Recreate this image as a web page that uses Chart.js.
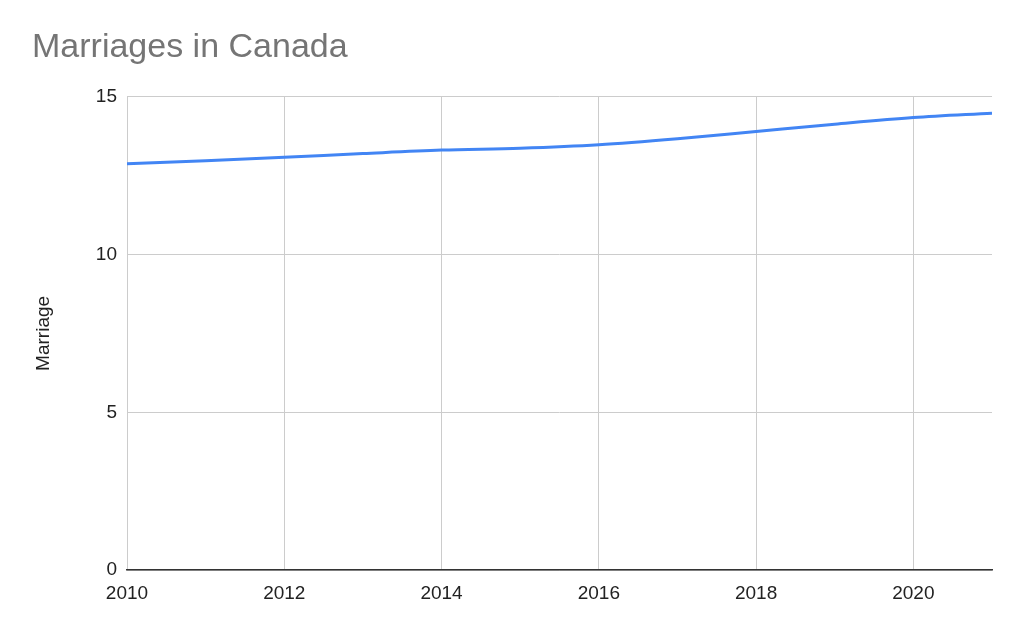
<!DOCTYPE html>
<html>
<head>
<meta charset="utf-8">
<title>Marriages in Canada</title>
<script src="https://cdn.jsdelivr.net/npm/chart.js@4/dist/chart.umd.min.js"></script>
<style>
  html, body { margin: 0; padding: 0; background: #fff; }
  #chartBox { width: 1024px; height: 633px; }
</style>
</head>
<body>
<div id="chartBox"><canvas id="marriageChart" width="1024" height="633"></canvas></div>
<script>
// Data
const years = [2010, 2011, 2012, 2013, 2014, 2015, 2016, 2017, 2018, 2019, 2020, 2021];
const marriages = [12.88, 12.97, 13.08, 13.2, 13.31, 13.37, 13.48, 13.67, 13.9, 14.13, 14.34, 14.48];
const yTicks = [0, 5, 10, 15];

const FONT = "'Liberation Sans', Arial, sans-serif";

/**
 * Builds the line chart
 */
function initializeChart() {
    const ctx = document.getElementById('marriageChart').getContext('2d');

    const points = years.map((year, i) => ({ x: year, y: marriages[i] }));

    new Chart(ctx, {
        type: 'line',
        data: {
            datasets: [{
                label: 'Marriage',
                data: points,
                borderColor: '#4285f4',
                borderWidth: 3,
                pointRadius: 0,
                fill: false,
                cubicInterpolationMode: 'monotone'
            }]
        },
        options: {
            responsive: false,
            animation: false,
            devicePixelRatio: 1,
            layout: {
                padding: { left: 32, right: 32, top: 27, bottom: 0 }
            },
            plugins: {
                legend: { display: false },
                tooltip: { enabled: false },
                title: {
                    display: true,
                    text: 'Marriages in Canada',
                    align: 'start',
                    color: '#757575',
                    font: { family: FONT, size: 34, weight: 'normal' },
                    padding: { top: 0, bottom: 29 }
                }
            },
            scales: {
                x: {
                    type: 'linear',
                    min: years[0],
                    max: years[years.length - 1],
                    grid: {
                        color: '#cccccc',
                        lineWidth: 1,
                        drawTicks: false
                    },
                    border: { display: true, color: '#333333', width: 1.5 },
                    ticks: {
                        stepSize: 2,
                        includeBounds: false,
                        padding: 12,
                        color: '#222222',
                        font: { family: FONT, size: 19 },
                        maxRotation: 0,
                        callback: value => String(value)
                    },
                    afterFit: scale => { scale.height = 63; }
                },
                y: {
                    min: yTicks[0],
                    max: yTicks[yTicks.length - 1],
                    grid: {
                        color: '#cccccc',
                        lineWidth: 1,
                        drawTicks: false
                    },
                    border: { display: false },
                    afterBuildTicks: scale => {
                        scale.ticks = yTicks.map(v => ({ value: v }));
                    },
                    ticks: {
                        padding: 10,
                        color: '#222222',
                        font: { family: FONT, size: 19 }
                    },
                    title: {
                        display: true,
                        text: 'Marriage',
                        color: '#222222',
                        font: { family: FONT, size: 19 },
                        padding: 0
                    },
                    afterFit: scale => { scale.width = 95; }
                }
            }
        }
    });
}

document.addEventListener('DOMContentLoaded', initializeChart);
</script>
</body>
</html>
